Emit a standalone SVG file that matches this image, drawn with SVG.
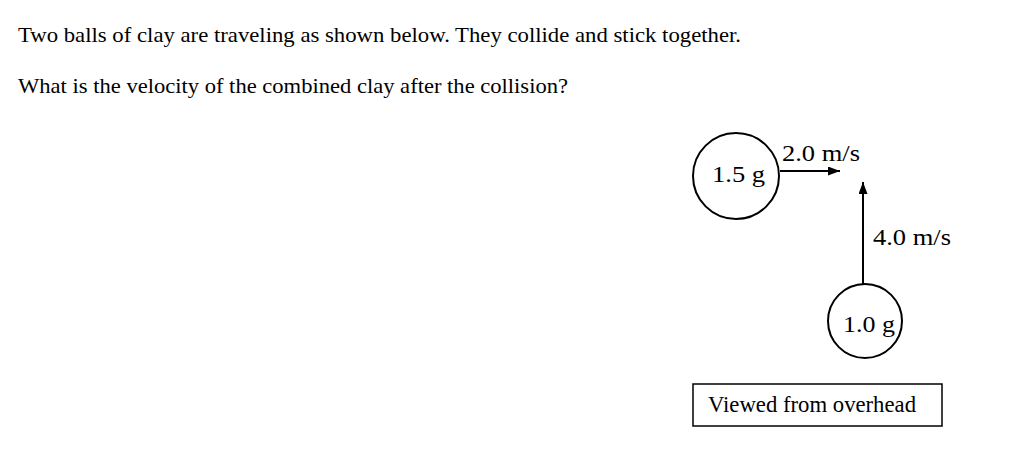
<svg xmlns="http://www.w3.org/2000/svg" width="1024" height="453" viewBox="0 0 1024 453">
<style>
text{font-family:"Liberation Serif","Times New Roman",serif;font-size:22.5px;fill:#000}
.q{font-size:21.5px}
.ln{stroke:#000;stroke-width:2;fill:none}
</style>
<defs>
<marker id="ah" markerWidth="12" markerHeight="9" refX="12" refY="4.5" orient="auto" markerUnits="userSpaceOnUse">
<path d="M0,0 L12,4.5 L0,9 Z" fill="#000"/>
</marker>
</defs>
<rect width="1024" height="453" fill="#fff"/>
<text class="q" x="18" y="42" textLength="723" lengthAdjust="spacingAndGlyphs">Two balls of clay are traveling as shown below. They collide and stick together.</text>
<text class="q" x="18" y="93" textLength="550" lengthAdjust="spacingAndGlyphs">What is the velocity of the combined clay after the collision?</text>
<g id="ball1">
<circle cx="736" cy="176" r="43" class="ln"/>
<text x="712" y="182" textLength="53" lengthAdjust="spacingAndGlyphs">1.5 g</text>
</g>
<g id="ball2">
<circle cx="865" cy="321" r="37" class="ln"/>
<text x="843" y="332" textLength="52" lengthAdjust="spacingAndGlyphs">1.0 g</text>
</g>
<g id="connectors">
<line x1="780" y1="171" x2="840" y2="171" class="ln" marker-end="url(#ah)"/>
<line x1="863" y1="284" x2="863" y2="182" class="ln" marker-end="url(#ah)"/>
</g>
<text x="782" y="161" textLength="78" lengthAdjust="spacingAndGlyphs">2.0 m/s</text>
<text x="873" y="245" textLength="78" lengthAdjust="spacingAndGlyphs">4.0 m/s</text>
<g id="note">
<rect x="693" y="384" width="249" height="42" fill="none" stroke="#000" stroke-width="1.5"/>
<text x="708" y="412" textLength="208" lengthAdjust="spacingAndGlyphs">Viewed from overhead</text>
</g>
</svg>
